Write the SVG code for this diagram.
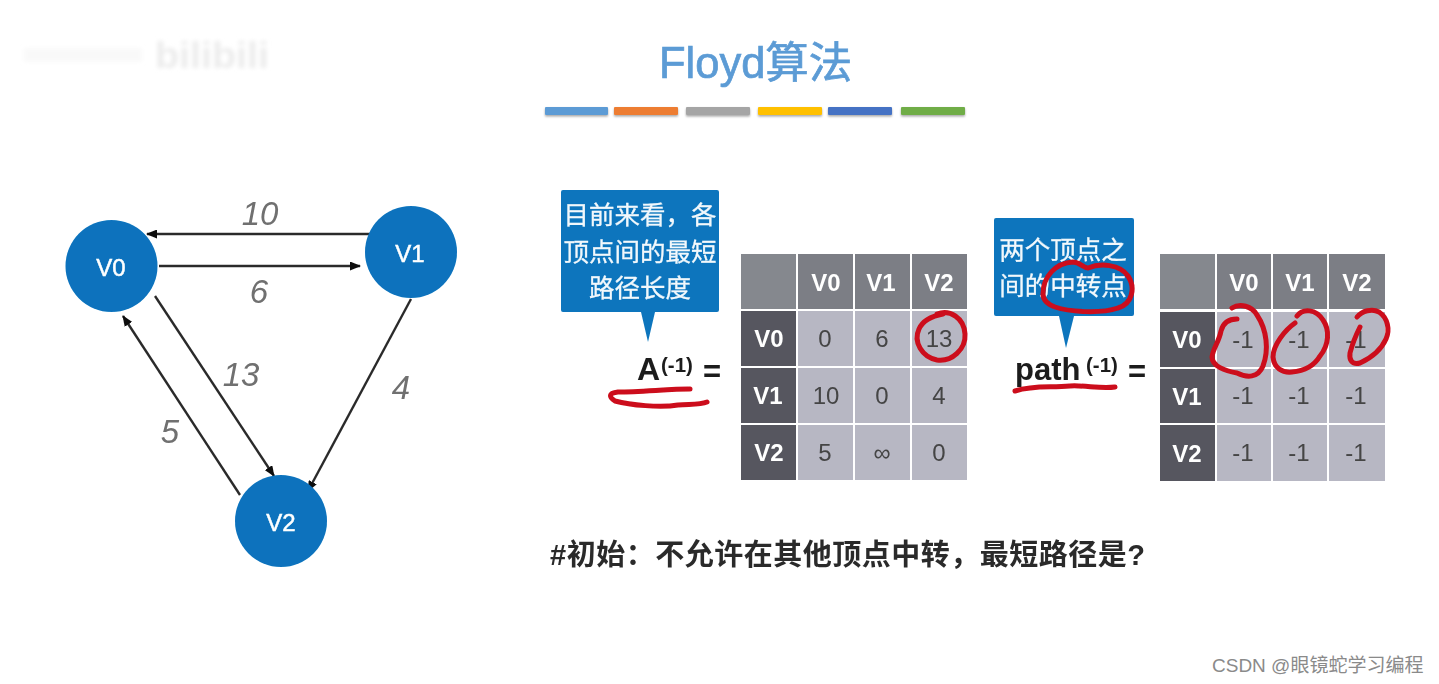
<svg xmlns="http://www.w3.org/2000/svg" width="1439" height="684" viewBox="0 0 1439 684">
<defs>
<filter id="soft" x="-5%" y="-5%" width="110%" height="110%"><feGaussianBlur stdDeviation="0.75"/></filter>
<filter id="wm" x="-10%" y="-30%" width="120%" height="160%"><feGaussianBlur stdDeviation="2"/></filter>
<filter id="barshadow" x="-5%" y="-30%" width="110%" height="180%"><feDropShadow dx="0" dy="1.5" stdDeviation="1" flood-color="#000" flood-opacity="0.35"/></filter>
<marker id="arrow" viewBox="0 0 11 9" refX="10" refY="4.500" markerWidth="11" markerHeight="9" markerUnits="userSpaceOnUse" orient="auto"><path d="M0 0L11 4.500L0 9Z" fill="#111"/></marker>
</defs>
<style>
text{font-family:"Liberation Sans","Noto Sans CJK SC",sans-serif}
.edge{fill:none;stroke:#2c2c2c;stroke-width:2.400;marker-end:url(#arrow)}
.node{fill:#0872bd}
.nl{fill:#fff;stroke:#fff;stroke-width:.5px;font-size:24px;text-anchor:middle}
.w{fill:#6f6f6f;font-size:33px;font-style:italic;text-anchor:middle}
.call{fill:#0b75bd}
.ct{fill:#f2f8fc;stroke:#f2f8fc;stroke-width:.3px;font-family:"Noto Sans CJK SC",sans-serif;font-size:25.500px;text-anchor:middle}
.th{fill:#7b7e85}.tc{fill:#85888e}.rh{fill:#56575e}.td{fill:#b7b7c3}
.hl{fill:#fff;font-size:24px;font-weight:bold;text-anchor:middle}
.v{fill:#444;font-size:24px;text-anchor:middle}
.red{fill:none;stroke:#cc0f1a;stroke-width:5;stroke-linecap:round;stroke-linejoin:round}
.eq{fill:#1c1c1c;font-weight:bold}
</style>
<rect width="1439" height="684" fill="#fff"/>
<g filter="url(#wm)" id="watermark">
<rect x="24" y="48" width="118" height="14" fill="#f9f9f9"/>
<text x="155" y="68" fill="#ececec" font-size="36" font-weight="bold" textLength="114" lengthAdjust="spacingAndGlyphs">bilibili</text>
</g>
<g filter="url(#soft)">
<g id="title">
<text x="659" y="78" fill="#5b9bd5" stroke="#5b9bd5" stroke-width="0.700" font-size="43.500">Floyd算法</text>
<g filter="url(#barshadow)">
<rect x="545" y="107" width="63" height="8" rx="1" fill="#5b9bd5"/>
<rect x="614" y="107" width="64" height="8" rx="1" fill="#ed7d31"/>
<rect x="686" y="107" width="64" height="8" rx="1" fill="#a5a5a5"/>
<rect x="758" y="107" width="64" height="8" rx="1" fill="#ffc000"/>
<rect x="828" y="107" width="64" height="8" rx="1" fill="#4472c4"/>
<rect x="901" y="107" width="64" height="8" rx="1" fill="#70ad47"/>
</g>
</g>
<g id="connectors">
<line class="edge" x1="372" y1="234" x2="147" y2="234"/>
<line class="edge" x1="159" y1="266" x2="360" y2="266"/>
<line class="edge" x1="155" y1="296" x2="274" y2="476"/>
<line class="edge" x1="240" y1="495" x2="123" y2="316"/>
<line class="edge" x1="411" y1="299" x2="308" y2="491"/>
<text class="w" x="260" y="225">10</text>
<text class="w" x="259" y="303">6</text>
<text class="w" x="241" y="386">13</text>
<text class="w" x="170" y="443">5</text>
<text class="w" x="401" y="399">4</text>
</g>
<g id="v0"><circle class="node" cx="111.500" cy="266" r="46"/><text class="nl" x="111" y="276">V0</text></g>
<g id="v1"><circle class="node" cx="411" cy="252" r="46"/><text class="nl" x="410" y="262">V1</text></g>
<g id="v2"><circle class="node" cx="281" cy="521" r="46"/><text class="nl" x="281" y="531">V2</text></g>
<g id="callout-a">
<path class="call" d="M563 190H717a2 2 0 0 1 2 2V310a2 2 0 0 1-2 2H655L648 342L641 312H563a2 2 0 0 1-2-2V192a2 2 0 0 1 2-2Z"/>
<text class="ct" x="640" y="224">目前来看，各</text>
<text class="ct" x="640" y="261">顶点间的最短</text>
<text class="ct" x="640" y="297">路径长度</text>
</g>
<g id="label-a">
<text class="eq" x="637" y="380" font-size="32">A</text>
<text class="eq" x="661" y="372" font-size="20.500">(-1)</text>
<text class="eq" x="703" y="382" font-size="31">=</text>
</g>
<g id="table-a">
<rect class="tc" x="741" y="254" width="55" height="55"/><rect class="th" x="798" y="254" width="55" height="55"/><rect class="th" x="855" y="254" width="55" height="55"/><rect class="th" x="912" y="254" width="55" height="55"/>
<rect class="rh" x="741" y="311" width="55" height="55"/><rect class="td" x="798" y="311" width="55" height="55"/><rect class="td" x="855" y="311" width="55" height="55"/><rect class="td" x="912" y="311" width="55" height="55"/>
<rect class="rh" x="741" y="368" width="55" height="55"/><rect class="td" x="798" y="368" width="55" height="55"/><rect class="td" x="855" y="368" width="55" height="55"/><rect class="td" x="912" y="368" width="55" height="55"/>
<rect class="rh" x="741" y="425" width="55" height="55"/><rect class="td" x="798" y="425" width="55" height="55"/><rect class="td" x="855" y="425" width="55" height="55"/><rect class="td" x="912" y="425" width="55" height="55"/>
<text class="hl" x="826" y="291">V0</text><text class="hl" x="881" y="291">V1</text><text class="hl" x="939" y="291">V2</text>
<text class="hl" x="769" y="347">V0</text><text class="hl" x="768" y="404">V1</text><text class="hl" x="769" y="461">V2</text>
<text class="v" x="825" y="347">0</text><text class="v" x="882" y="347">6</text><text class="v" x="939" y="347">13</text>
<text class="v" x="826" y="404">10</text><text class="v" x="882" y="404">0</text><text class="v" x="939" y="404">4</text>
<text class="v" x="825" y="461">5</text><text class="v" x="882" y="461">∞</text><text class="v" x="939" y="461">0</text>
</g>
<g id="callout-path">
<path class="call" d="M996 218H1132a2 2 0 0 1 2 2V314a2 2 0 0 1-2 2H1074L1066 348L1059 316H996a2 2 0 0 1-2-2V220a2 2 0 0 1 2-2Z"/>
<text class="ct" x="1063" y="259">两个顶点之</text>
<text class="ct" x="1063" y="295">间的中转点</text>
</g>
<g id="label-path">
<text class="eq" x="1015" y="380" font-size="31">path</text>
<text class="eq" x="1086" y="372" font-size="20.500">(-1)</text>
<text class="eq" x="1128" y="382" font-size="31">=</text>
</g>
<g id="table-path">
<rect class="tc" x="1160" y="254" width="55" height="55"/><rect class="th" x="1217" y="254" width="54" height="55"/><rect class="th" x="1273" y="254" width="54" height="55"/><rect class="th" x="1329" y="254" width="56" height="55"/>
<rect class="rh" x="1160" y="312" width="55" height="55"/><rect class="td" x="1217" y="312" width="54" height="55"/><rect class="td" x="1273" y="312" width="54" height="55"/><rect class="td" x="1329" y="312" width="56" height="55"/>
<rect class="rh" x="1160" y="369" width="55" height="54"/><rect class="td" x="1217" y="369" width="54" height="54"/><rect class="td" x="1273" y="369" width="54" height="54"/><rect class="td" x="1329" y="369" width="56" height="54"/>
<rect class="rh" x="1160" y="425" width="55" height="56"/><rect class="td" x="1217" y="425" width="54" height="56"/><rect class="td" x="1273" y="425" width="54" height="56"/><rect class="td" x="1329" y="425" width="56" height="56"/>
<text class="hl" x="1244" y="291">V0</text><text class="hl" x="1300" y="291">V1</text><text class="hl" x="1357" y="291">V2</text>
<text class="hl" x="1187" y="348">V0</text><text class="hl" x="1187" y="405">V1</text><text class="hl" x="1187" y="462">V2</text>
<text class="v" x="1243" y="348">-1</text><text class="v" x="1299" y="348">-1</text><text class="v" x="1356" y="348">-1</text>
<text class="v" x="1243" y="404">-1</text><text class="v" x="1299" y="404">-1</text><text class="v" x="1356" y="404">-1</text>
<text class="v" x="1243" y="461">-1</text><text class="v" x="1299" y="461">-1</text><text class="v" x="1356" y="461">-1</text>
</g>
<g id="annotations">
<path class="red" d="M937 314C950 309 964 318 965 334C966 349 952 362 937 360C922 357 913 342 919 329C923 320 932 316 943 314"/>
<path class="red" d="M690 389C670 389 640 392 618 392C608 393 609 397 615 401C630 405 660 408 678 405C690 404 700 405 707 402"/>
<path class="red" d="M1015 391C1035 385 1050 388 1070 386C1085 385 1100 389 1115 387"/>
<path class="red" d="M1043 294C1043 276 1056 263 1073 262C1080 262 1083 268 1088 268C1100 263 1120 264 1128 276C1136 288 1132 304 1118 308C1100 314 1070 312 1055 307C1047 304 1043 300 1043 294Z"/>
<path class="red" d="M1237 319C1228 319 1223 323 1221 331C1219 342 1213 348 1212 357C1212 366 1225 371 1237 373C1247 378 1258 378 1263 366C1269 350 1267 330 1257 315C1252 306 1240 303 1232 308"/>
<path class="red" d="M1295 323C1285 330 1273 345 1273 357C1274 368 1282 373 1292 372C1305 371 1314 366 1320 356C1329 345 1330 330 1323 320C1316 309 1303 308 1297 316"/>
<path class="red" d="M1357 317C1362 311 1372 308 1379 312C1388 318 1390 330 1386 339C1381 350 1371 358 1360 363C1352 365 1349 360 1350 353C1352 345 1356 335 1360 327"/>
</g>
<text id="caption" x="550" y="565" fill="#2b2b2b" font-size="29" font-weight="bold" textLength="595" lengthAdjust="spacing">#初始：不允许在其他顶点中转，最短路径是?</text>
</g>
<text id="credit" x="1212" y="672" fill="#8a8a8a" font-size="19">CSDN @眼镜蛇学习编程</text>
</svg>
